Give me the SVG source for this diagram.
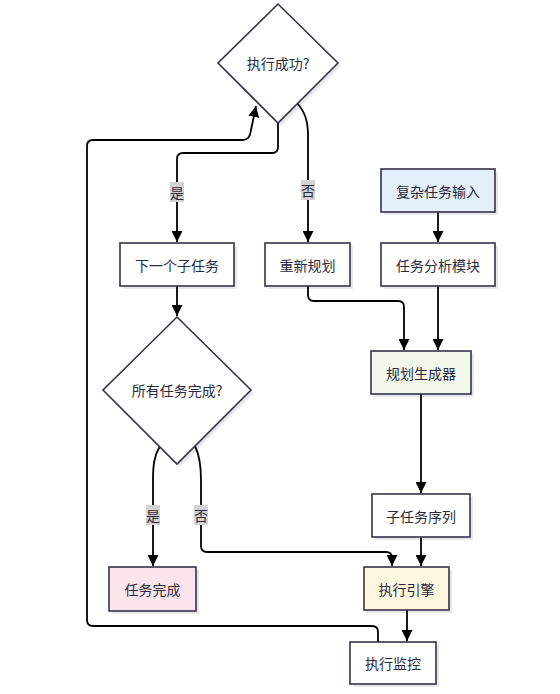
<svg xmlns="http://www.w3.org/2000/svg" width="560" height="694" viewBox="0 0 560 694">
<defs>
<style>
.n{stroke:#35334a;stroke-width:1.6;fill:#fff}
.sh{fill:#000;opacity:0.09}
.t{font-family:"Noto Sans CJK SC","Noto Sans",sans-serif;font-size:14px;fill:#2a2a3a;text-anchor:middle;dominant-baseline:central}
.e{fill:none;stroke:#000;stroke-width:1.8}
.lb{fill:#d3d3d3}
.lt{font-family:"Noto Sans CJK SC","Noto Sans",sans-serif;font-size:14px;fill:#2a2a3a;text-anchor:middle;dominant-baseline:central}
</style>
<marker id="a" viewBox="0 0 10 10" refX="10" refY="5" markerWidth="11" markerHeight="11" markerUnits="userSpaceOnUse" orient="auto">
<path d="M0,0 L10,5 L0,10 z" fill="#000"/>
</marker>
</defs>
<rect width="560" height="694" fill="#fff"/>

<g id="edges">
<path class="e" d="M278,122 V147 Q278,153 272,153 H183 Q177,153 177,159 V242" marker-end="url(#a)"/>
<path class="e" d="M297,103 C305,112 308,121 308,136 V242" marker-end="url(#a)"/>
<path class="e" d="M438,212 V242" marker-end="url(#a)"/>
<path class="e" d="M308,286 V295 Q308,301 314,301 H398 Q404,301 404,307 V350" marker-end="url(#a)"/>
<path class="e" d="M438,286 V350" marker-end="url(#a)"/>
<path class="e" d="M177,286 V316" marker-end="url(#a)"/>
<path class="e" d="M421,394 V493" marker-end="url(#a)"/>
<path class="e" d="M160,446 C154,456 153,466 153,480 V566" marker-end="url(#a)"/>
<path class="e" d="M195,446 C200,456 201,466 201,480 V546 Q201,552 207,552 H386 Q392,552 392,558 V566" marker-end="url(#a)"/>
<path class="e" d="M421,537 V566" marker-end="url(#a)"/>
<path class="e" d="M407,610 V641" marker-end="url(#a)"/>
<path class="e" d="M378,642 V632 Q378,626 372,626 H93 Q87,626 87,620 V146 Q87,140 93,140 H243 Q250,140 251,130 L256,106" marker-end="url(#a)"/>
<rect class="lb" x="170" y="182" width="14" height="20"/>
<text class="lt" x="177" y="192">是</text>
<rect class="lb" x="301" y="180" width="14" height="20"/>
<text class="lt" x="308" y="190">否</text>
<rect class="lb" x="146" y="505" width="14" height="20"/>
<text class="lt" x="153" y="515">是</text>
<rect class="lb" x="194" y="505" width="14" height="20"/>
<text class="lt" x="201" y="515">否</text>
</g>

<g id="n_success">
<polygon class="sh" points="281,7 341,66 281,126 221,66"/>
<polygon class="n" points="278,4 338,63 278,123 218,63"/>
<text class="t" x="278" y="63">执行成功?</text>
</g>
<g id="n_next">
<rect class="sh" x="123" y="246" width="114" height="43"/>
<rect class="n" x="120" y="243" width="114" height="43"/>
<text class="t" x="177" y="264.5">下一个子任务</text>
</g>
<g id="n_replan">
<rect class="sh" x="268" y="246" width="85" height="43"/>
<rect class="n" x="265" y="243" width="85" height="43"/>
<text class="t" x="307.5" y="264.5">重新规划</text>
</g>
<g id="n_input">
<rect class="sh" x="384" y="172" width="114" height="43"/>
<rect class="n" x="381" y="169" width="114" height="43" style="fill:#e3f0fb"/>
<text class="t" x="438" y="190.5">复杂任务输入</text>
</g>
<g id="n_analysis">
<rect class="sh" x="384" y="246" width="114" height="43"/>
<rect class="n" x="381" y="243" width="114" height="43"/>
<text class="t" x="438" y="264.5">任务分析模块</text>
</g>
<g id="n_planner">
<rect class="sh" x="374" y="354" width="100" height="43"/>
<rect class="n" x="371" y="351" width="100" height="43" style="fill:#f1f7ea"/>
<text class="t" x="421" y="372.5">规划生成器</text>
</g>
<g id="n_alldone">
<polygon class="sh" points="180,320 254,393 180,467 106,393"/>
<polygon class="n" points="177,317 251,390 177,464 103,390"/>
<text class="t" x="177" y="390">所有任务完成?</text>
</g>
<g id="n_done">
<rect class="sh" x="112" y="570" width="87" height="44"/>
<rect class="n" x="109" y="567" width="87" height="44" style="fill:#fbe5ec"/>
<text class="t" x="152.5" y="589">任务完成</text>
</g>
<g id="n_seq">
<rect class="sh" x="375" y="497" width="98" height="43"/>
<rect class="n" x="372" y="494" width="98" height="43"/>
<text class="t" x="421" y="515.5">子任务序列</text>
</g>
<g id="n_engine">
<rect class="sh" x="367" y="570" width="85" height="43"/>
<rect class="n" x="364" y="567" width="85" height="43" style="fill:#fdf7e0"/>
<text class="t" x="406.5" y="588.5">执行引擎</text>
</g>
<g id="n_monitor">
<rect class="sh" x="353" y="645" width="86" height="42"/>
<rect class="n" x="350" y="642" width="86" height="42"/>
<text class="t" x="393" y="663">执行监控</text>
</g>
</svg>
